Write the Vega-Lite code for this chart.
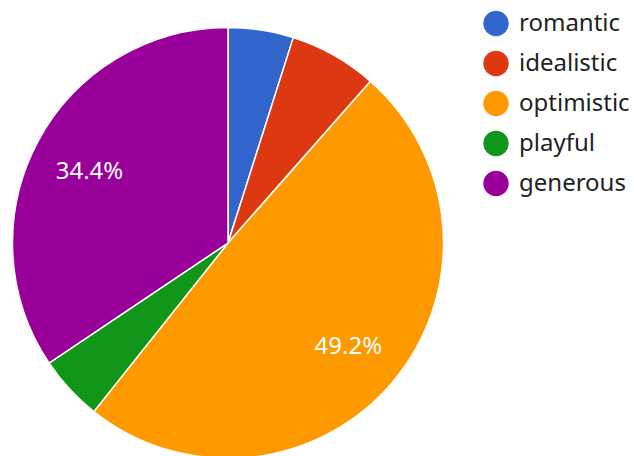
{
  "$schema": "https://vega.github.io/schema/vega-lite/v6.json",
  "width": 456,
  "height": 456,
  "autosize": {"type": "none"},
  "padding": {"left": 0, "top": 15, "right": 178, "bottom": 0},
  "background": "white",
  "config": {"view": {"stroke": null}, "font": "Noto Sans"},
  "data": {
    "values": [
      {"category": "romantic", "value": 4.9, "order": 1, "label": ""},
      {"category": "idealistic", "value": 6.6, "order": 2, "label": ""},
      {"category": "optimistic", "value": 49.2, "order": 3, "label": "49.2%"},
      {"category": "playful", "value": 4.9, "order": 4, "label": ""},
      {"category": "generous", "value": 34.4, "order": 5, "label": "34.4%"}
    ]
  },
  "encoding": {
    "theta": {"field": "value", "type": "quantitative", "stack": true},
    "order": {"field": "order", "type": "quantitative"},
    "color": {
      "field": "category",
      "type": "nominal",
      "sort": ["romantic", "idealistic", "optimistic", "playful", "generous"],
      "scale": {
        "domain": ["romantic", "idealistic", "optimistic", "playful", "generous"],
        "range": ["#3366cc", "#dc3912", "#ff9900", "#109618", "#990099"]
      },
      "legend": {
        "title": null,
        "orient": "none",
        "legendX": 483,
        "legendY": -4.5,
        "symbolType": "circle",
        "symbolSize": 640,
        "symbolStrokeWidth": 0,
        "symbolOpacity": 1,
        "labelFontSize": 24,
        "labelFont": "Noto Sans",
        "labelColor": "#222222",
        "labelOffset": 10,
        "rowPadding": 14,
        "padding": 0
      }
    }
  },
  "layer": [
    {
      "mark": {"type": "arc", "outerRadius": 215.5, "stroke": "white", "strokeWidth": 1.5}
    },
    {
      "mark": {"type": "text", "radius": 157, "dy": 3, "fontSize": 24, "font": "Noto Sans", "color": "white"},
      "encoding": {
        "text": {"field": "label", "type": "nominal"},
        "color": {"value": "white"}
      }
    }
  ]
}
